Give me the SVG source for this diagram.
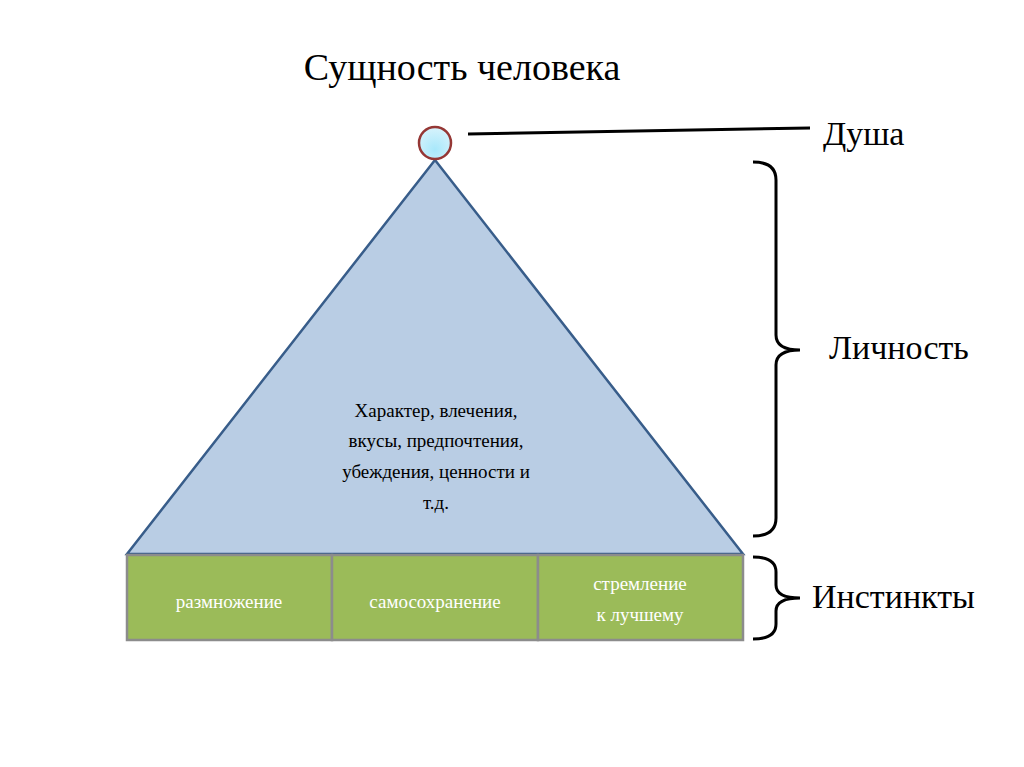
<svg xmlns="http://www.w3.org/2000/svg" width="1024" height="767" viewBox="0 0 1024 767">
<defs>
<style>
.t{font-family:"Liberation Serif",serif;fill:#000}
.w{font-family:"Liberation Serif",serif;fill:#fff;font-size:19px;text-anchor:middle}
.br{fill:none;stroke:#000;stroke-width:3}
.cell{fill:#9bbb59;stroke:#8c8c8c;stroke-width:2.5}
</style>
<radialGradient id="g" cx="0.5" cy="0.7" r="0.7"><stop offset="0" stop-color="#a8e8fb"/><stop offset="1" stop-color="#d8f3fc"/></radialGradient>
</defs>
<rect width="1024" height="767" fill="#fff"/>
<text class="t" x="462" y="80" font-size="38" text-anchor="middle">Сущность человека</text>
<g id="pyramid">
<polygon points="435,160 127,554 743,554" fill="#b9cde4" stroke="#385d8a" stroke-width="2.5"/>
<text class="t" font-size="19" text-anchor="middle"><tspan x="436" y="417">Характер, влечения,</tspan><tspan x="436" y="447">вкусы, предпочтения,</tspan><tspan x="436" y="478">убеждения, ценности и</tspan><tspan x="436" y="509">т.д.</tspan></text>
</g>
<g id="soul"><circle cx="435" cy="143" r="16" fill="url(#g)" stroke="#953735" stroke-width="2.5"/></g>
<g id="instincts">
<rect class="cell" x="127" y="555" width="205" height="85"/>
<rect class="cell" x="332" y="555" width="206" height="85"/>
<rect class="cell" x="538" y="555" width="205" height="85"/>
<text class="w" x="229" y="608">размножение</text>
<text class="w" x="435" y="608">самосохранение</text>
<text class="w"><tspan x="640" y="590">стремление</tspan><tspan x="640" y="621">к лучшему</tspan></text>
</g>
<g id="connectors">
<line x1="468" y1="134" x2="810" y2="128" stroke="#000" stroke-width="3"/>
<path class="br" d="M753,162 Q776,162 776,180 L776,335 Q776,350 800,350 Q776,350 776,365 L776,518 Q776,536 753,536"/>
<path class="br" d="M753,557 Q776,557 776,572 L776,585 Q776,598 800,598 Q776,598 776,611 L776,624 Q776,639 753,639"/>
</g>
<text class="t" x="823" y="145" font-size="34">Душа</text>
<text class="t" x="829" y="359" font-size="34">Личность</text>
<text class="t" x="812" y="608" font-size="34">Инстинкты</text>
</svg>
